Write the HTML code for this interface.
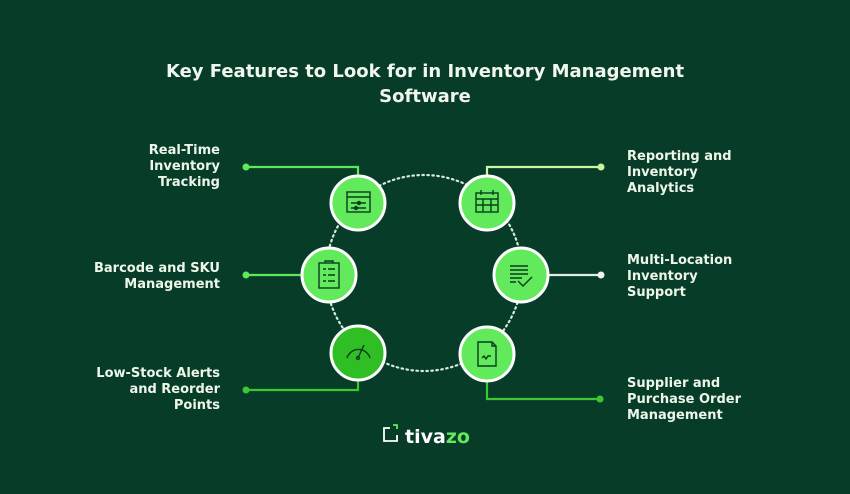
<!DOCTYPE html>
<html><head><style>
body{margin:0;width:850px;height:494px;background:#073d28;overflow:hidden;position:relative;font-family:"DejaVu Sans","Liberation Sans",sans-serif;}
.t{position:absolute;left:0;width:850px;text-align:center;top:59px;color:#f2f7ee;font-weight:bold;font-size:18px;line-height:25px;}
.l{position:absolute;color:#eef6ea;font-weight:bold;font-size:13px;line-height:16px;}
.r{text-align:right;right:630px;}
.lf{left:627px;}
</style></head><body>
<div class="t">Key Features to Look for in Inventory Management<br>Software</div>
<svg width="850" height="494" style="position:absolute;left:0;top:0">
<circle cx="424" cy="273" r="98" fill="none" stroke="#d8eadc" stroke-width="2.2" stroke-dasharray="1.5 3.5" stroke-linecap="round"/>
<g fill="none" stroke-width="2.2">
<path d="M246 167H358V180" stroke="#5ee85a"/>
<path d="M487 180V167H601" stroke="#c9f7a0"/>
<path d="M246 275H305" stroke="#5ee85a"/>
<path d="M545 275H601" stroke="#e6ece6"/>
<path d="M246 390H358V378" stroke="#3cc832"/>
<path d="M487 378V399H600" stroke="#3cc832"/>
</g>
<circle cx="246" cy="167" r="3.5" fill="#5ee85a"/>
<circle cx="601" cy="167" r="3.5" fill="#c9f7a0"/>
<circle cx="246" cy="275" r="3.5" fill="#5ee85a"/>
<circle cx="601" cy="275" r="3.5" fill="#f2f2f2"/>
<circle cx="246" cy="390" r="3.5" fill="#3cc832"/>
<circle cx="600" cy="399" r="3.5" fill="#3cc832"/>
<g stroke="#fff" stroke-width="3">
<circle cx="358" cy="203" r="27" fill="#62ea5c"/>
<circle cx="487" cy="203" r="27" fill="#62ea5c"/>
<circle cx="329" cy="275" r="27" fill="#62ea5c"/>
<circle cx="521" cy="275" r="27" fill="#62ea5c"/>
<circle cx="358" cy="353" r="27" fill="#2fbf25"/>
<circle cx="487" cy="354" r="27" fill="#62ea5c"/>
</g>
<g fill="none" stroke="#0b3b1f" stroke-width="1.4">
<rect x="347" y="192" width="23" height="20"/><path d="M347 197H370M351 203H366M351 208H366"/><circle cx="359" cy="203" r="1.5"/><circle cx="356" cy="208" r="1.5"/>
<rect x="476" y="193" width="22" height="19"/><path d="M476 199H498M476 205H498M483 199V212M491 199V212M481 190V195M493 190V195"/>
<rect x="319" y="263" width="20" height="25"/><path d="M325 263V261H333V263M323 269H326M328 269H335M323 275H326M328 275H335M323 281H326M328 281H335"/>
<path d="M510 266H528M510 270H528M510 274H528M510 278H522M510 282H516M518 281L523 286L532 277"/>
<path d="M347 358A12 12 0 0 1 370 358M358 358L364 345"/><circle cx="358" cy="358" r="1.5"/>
<path d="M478 342H492L496 346V366H478ZM492 342V346H496M482 358L484 356L486 359L488 356H491"/>
</g>
<g fill="none" stroke="#fff" stroke-width="1.8"><path d="M390 428H384V441H397V435"/></g>
<path d="M393 425H397V429" fill="none" stroke="#62ea5c" stroke-width="1.8"/>
<text x="405" y="443" font-family="DejaVu Sans,sans-serif" font-weight="bold" font-size="19" fill="#fff">tiva<tspan fill="#62ea5c">zo</tspan></text>
</svg>
<div class="l r" style="top:143px">Real-Time<br>Inventory<br>Tracking</div>
<div class="l r" style="top:261px">Barcode and SKU<br>Management</div>
<div class="l r" style="top:366px">Low-Stock Alerts<br>and Reorder<br>Points</div>
<div class="l lf" style="top:149px">Reporting and<br>Inventory<br>Analytics</div>
<div class="l lf" style="top:253px">Multi-Location<br>Inventory<br>Support</div>
<div class="l lf" style="top:376px">Supplier and<br>Purchase Order<br>Management</div>
</body></html>
